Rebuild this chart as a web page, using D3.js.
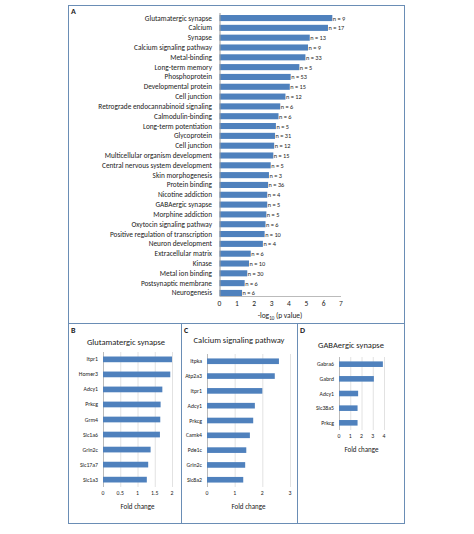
<!DOCTYPE html>
<html><head><meta charset="UTF-8">
<script src="https://d3js.org/d3.v7.min.js"></script>
<style>body{margin:0;background:#fff}text{font-family:Calibri,Carlito,"Liberation Sans",sans-serif;fill:#222}</style>
</head><body><svg id="c" width="474" height="534"></svg>
<script>
const termsA = ["Glutamatergic synapse","Calcium","Synapse","Calcium signaling pathway","Metal-binding","Long-term memory","Phosphoprotein","Developmental protein","Cell junction","Retrograde endocannabinoid signaling","Calmodulin-binding","Long-term potentiation","Glycoprotein","Cell junction","Multicellular organism development","Central nervous system development","Skin morphogenesis","Protein binding","Nicotine addiction","GABAergic synapse","Morphine addiction","Oxytocin signaling pathway","Positive regulation of transcription","Neuron development","Extracellular matrix","Kinase","Metal ion binding","Postsynaptic membrane","Neurogenesis"];
const logpA = [6.5,6.25,5.2,5.1,4.95,4.6,4.1,4.05,3.8,3.5,3.4,3.25,3.2,3.15,3.1,2.95,2.85,2.8,2.75,2.75,2.7,2.65,2.6,2.5,1.8,1.7,1.6,1.45,1.3];
const countA = [9,17,13,9,33,5,53,15,12,6,6,5,31,12,15,5,3,36,4,5,5,6,10,4,6,10,30,6,6];
const genesB = ["Itpr1","Homer3","Adcy1","Prkcg","Grm4","Slc1a6","Grin2c","Slc17a7","Slc1a3"];
const foldB = [2.0,1.95,1.72,1.67,1.66,1.65,1.38,1.31,1.27];
const genesC = ["Itpka","Atp2a3","Itpr1","Adcy1","Prkcg","Camk4","Pde1c","Grin2c","Slc8a2"];
const foldC = [2.6,2.45,2.0,1.73,1.67,1.55,1.42,1.38,1.31];
const genesD = ["Gabra6","Gabrd","Adcy1","Slc38a5","Prkcg"];
const foldD = [3.9,3.1,1.7,1.65,1.65];

const svg = d3.select("#c");
const blue = "#4f81bd", border = "#6a8db5";
// frames
svg.append("rect").attr("x",68.5).attr("y",5.5).attr("width",336).attr("height",128+390).attr("fill","none").attr("stroke",border);
svg.append("line").attr("x1",68).attr("x2",404).attr("y1",323.5).attr("y2",323.5).attr("stroke",border);
[181.5,297.5].forEach(x=>svg.append("line").attr("x1",x).attr("x2",x).attr("y1",323).attr("y2",523).attr("stroke",border));
[["A",71,14],["B",71,333],["C",184,333],["D",300,333]].forEach(([t,x,y])=>
  svg.append("text").attr("x",x).attr("y",y).attr("font-size",8).attr("font-weight","bold").text(t));

// panel A
const xA = d3.scaleLinear().domain([0,7]).range([219.5,341]);
const yA = d3.scaleBand().domain(d3.range(termsA.length)).range([15,296]).paddingInner(0.38);
const gA = svg.append("g");
gA.selectAll("rect").data(logpA).join("rect").attr("x",xA(0)).attr("y",(d,i)=>yA(i))
  .attr("width",d=>xA(d)-xA(0)).attr("height",yA.bandwidth()).attr("fill",blue);
gA.selectAll(".lab").data(termsA).join("text").attr("x",212).attr("y",(d,i)=>yA(i)+yA.bandwidth()/2+2.5)
  .attr("text-anchor","end").attr("font-size",7.3).text(d=>d);
gA.selectAll(".n").data(logpA).join("text").attr("x",d=>xA(d)+0.5).attr("y",(d,i)=>yA(i)+yA.bandwidth()/2+2.5)
  .attr("font-size",6.3).text((d,i)=>"n = "+countA[i]);
gA.append("line").attr("x1",xA(0)+0.5).attr("x2",xA(0)+0.5).attr("y1",13).attr("y2",296).attr("stroke","#999");
gA.append("line").attr("x1",xA(0)).attr("x2",xA(7)).attr("y1",296.5).attr("y2",296.5).attr("stroke","#bbb");
gA.selectAll(".t").data(d3.range(8)).join("text").attr("x",d=>xA(d)).attr("y",306).attr("text-anchor","middle").attr("font-size",7.5).text(d=>d);
const al = gA.append("text").attr("x",280).attr("y",318).attr("text-anchor","middle").attr("font-size",7.5);
al.append("tspan").text("-log");
al.append("tspan").attr("font-size",5).attr("dy",2).text("10");
al.append("tspan").attr("dy",-2).text(" (p value)");

function panel(genes, vals, title, cfg){
  const g = svg.append("g");
  const x = d3.scaleLinear().domain([0,cfg.max]).range([cfg.x0,cfg.x1]);
  const y = d3.scaleBand().domain(genes).range([cfg.y0,cfg.y1]).paddingInner(0.62).paddingOuter(0.3);
  g.selectAll(".gr").data(cfg.ticks).join("line").attr("x1",d=>x(d)+0.5).attr("x2",d=>x(d)+0.5)
    .attr("y1",cfg.y0).attr("y2",cfg.y1).attr("stroke",d=>d===0?"#bbb":"#e2e2e2");
  g.selectAll("rect").data(vals).join("rect").attr("x",x(0)).attr("y",(d,i)=>y(genes[i]))
    .attr("width",d=>x(d)-x(0)).attr("height",y.bandwidth()).attr("fill",blue);
  g.selectAll(".gl").data(genes).join("text").attr("x",cfg.x0-5).attr("y",d=>y(d)+y.bandwidth()/2+2)
    .attr("text-anchor","end").attr("font-size",5.8).text(d=>d);
  g.selectAll(".tk").data(cfg.ticks).join("text").attr("x",d=>x(d)).attr("y",cfg.y1+8).attr("text-anchor","middle")
    .attr("font-size",5.8).text(d=>d);
  g.append("text").attr("x",cfg.tx).attr("y",cfg.ty).attr("text-anchor","middle").attr("font-size",8.5).text(title);
  g.append("text").attr("x",(cfg.x0+cfg.x1)/2).attr("y",cfg.y1+22).attr("text-anchor","middle").attr("font-size",7).text("Fold change");
}
panel(genesB, foldB, "Glutamatergic synapse", {max:2,x0:103,x1:172,y0:352,y1:487,ticks:[0,0.5,1,1.5,2],tx:126,ty:345});
panel(genesC, foldC, "Calcium signaling pathway", {max:3,x0:207,x1:290,y0:354,y1:487,ticks:[0,1,2,3],tx:239,ty:343});
panel(genesD, foldD, "GABAergic synapse", {max:4,x0:339,x1:384,y0:357,y1:430,ticks:[0,1,2,3,4],tx:351,ty:348});
</script></body></html>
